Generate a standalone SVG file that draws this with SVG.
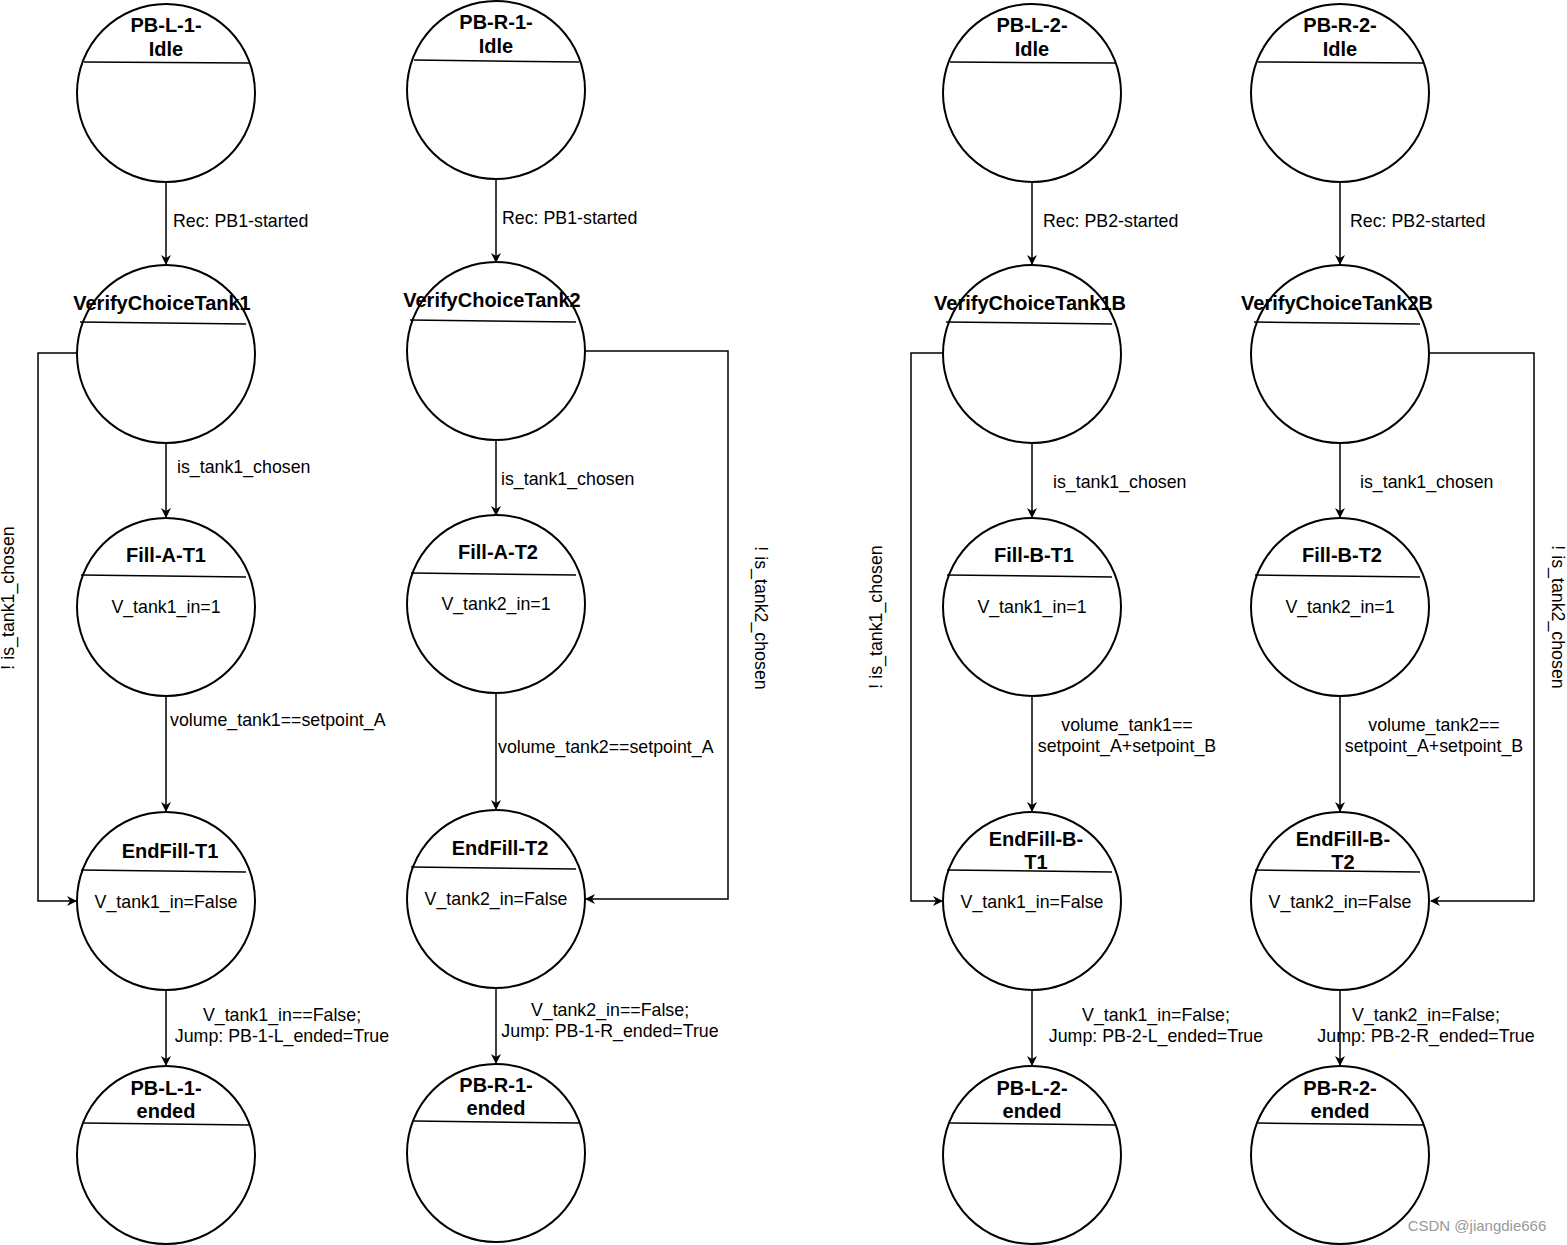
<svg xmlns="http://www.w3.org/2000/svg" width="1567" height="1245" viewBox="0 0 1567 1245">
<style>
.c{fill:#fff;stroke:#000;stroke-width:2}
.l{stroke:#000;stroke-width:1.5}
.t{font-family:"Liberation Sans",Arial,sans-serif;font-size:20px;font-weight:bold;text-anchor:middle}
.b{font-family:"Liberation Sans",Arial,sans-serif;font-size:17.8px;text-anchor:middle}
.e{font-family:"Liberation Sans",Arial,sans-serif;font-size:17.8px}
.w{fill:none;stroke:#000;stroke-width:1.5;marker-end:url(#a)}
</style>
<defs><marker id="a" markerWidth="10" markerHeight="10" refX="9" refY="5" orient="auto" markerUnits="userSpaceOnUse"><path d="M0,0 L10,5 L0,10 L3,5 Z" fill="#000"/></marker></defs>
<rect width="1567" height="1245" fill="#fff"/>
<g id="connectors">
<path class="w" d="M166,182 V264"/><path class="w" d="M166,443 V517"/><path class="w" d="M166,696 V811"/><path class="w" d="M166,990 V1065"/>
<path class="w" d="M496,179 V262"/><path class="w" d="M496,440 V515"/><path class="w" d="M496,693 V809"/><path class="w" d="M496,988 V1063"/>
<path class="w" d="M1032,182 V264"/><path class="w" d="M1032,443 V517"/><path class="w" d="M1032,696 V811"/><path class="w" d="M1032,990 V1065"/>
<path class="w" d="M1340,182 V264"/><path class="w" d="M1340,443 V517"/><path class="w" d="M1340,696 V811"/><path class="w" d="M1340,990 V1065"/>
<path class="w" d="M77,353 H38 V901 H76"/>
<path class="w" d="M585,351 H728 V899 H586"/>
<path class="w" d="M943,353 H911 V901 H942"/>
<path class="w" d="M1430,353 H1534 V901 H1431"/>
<text class="e" x="173" y="227">Rec: PB1-started</text>
<text class="e" x="502" y="224">Rec: PB1-started</text>
<text class="e" x="1043" y="227">Rec: PB2-started</text>
<text class="e" x="1350" y="227">Rec: PB2-started</text>
<text class="e" x="177" y="473">is_tank1_chosen</text>
<text class="e" x="501" y="485">is_tank1_chosen</text>
<text class="e" x="1053" y="488">is_tank1_chosen</text>
<text class="e" x="1360" y="488">is_tank1_chosen</text>
<text class="e" x="170" y="726">volume_tank1==setpoint_A</text>
<text class="e" x="498" y="753">volume_tank2==setpoint_A</text>
<text class="b" x="1127" y="731">volume_tank1==</text><text class="b" x="1127" y="752">setpoint_A+setpoint_B</text>
<text class="b" x="1434" y="731">volume_tank2==</text><text class="b" x="1434" y="752">setpoint_A+setpoint_B</text>
<text class="b" x="282" y="1021">V_tank1_in==False;</text><text class="b" x="282" y="1042">Jump: PB-1-L_ended=True</text>
<text class="b" x="610" y="1016">V_tank2_in==False;</text><text class="b" x="610" y="1037">Jump: PB-1-R_ended=True</text>
<text class="b" x="1156" y="1021">V_tank1_in=False;</text><text class="b" x="1156" y="1042">Jump: PB-2-L_ended=True</text>
<text class="b" x="1426" y="1021">V_tank2_in=False;</text><text class="b" x="1426" y="1042">Jump: PB-2-R_ended=True</text>
<text class="b" transform="translate(14,598) rotate(-90)">! is_tank1_chosen</text>
<text class="b" transform="translate(755,618) rotate(90)">! is_tank2_chosen</text>
<text class="b" transform="translate(882,617) rotate(-90)">! is_tank1_chosen</text>
<text class="b" transform="translate(1552,617) rotate(90)">! is_tank2_chosen</text>
</g>
<g id="n1"><circle class="c" cx="166" cy="93" r="89"/><line class="l" x1="84" y1="62" x2="249" y2="63"/><text class="t" x="166" y="32">PB-L-1-</text><text class="t" x="166" y="56">Idle</text></g>
<g id="n2"><circle class="c" cx="166" cy="354" r="89"/><line class="l" x1="80" y1="322" x2="246" y2="324"/><text class="t" x="162" y="310">VerifyChoiceTank1</text></g>
<g id="n3"><circle class="c" cx="166" cy="607" r="89"/><line class="l" x1="81" y1="575" x2="246" y2="577"/><text class="t" x="166" y="562">Fill-A-T1</text><text class="b" x="166" y="613">V_tank1_in=1</text></g>
<g id="n4"><circle class="c" cx="166" cy="901" r="89"/><line class="l" x1="81" y1="870" x2="246" y2="872"/><text class="t" x="170" y="858">EndFill-T1</text><text class="b" x="166" y="908">V_tank1_in=False</text></g>
<g id="n5"><circle class="c" cx="166" cy="1155" r="89"/><line class="l" x1="84" y1="1123" x2="249" y2="1125"/><text class="t" x="166" y="1095">PB-L-1-</text><text class="t" x="166" y="1118">ended</text></g>
<g id="n6"><circle class="c" cx="496" cy="90" r="89"/><line class="l" x1="414" y1="60" x2="579" y2="62"/><text class="t" x="496" y="29">PB-R-1-</text><text class="t" x="496" y="53">Idle</text></g>
<g id="n7"><circle class="c" cx="496" cy="351" r="89"/><line class="l" x1="410" y1="320" x2="576" y2="322"/><text class="t" x="492" y="307">VerifyChoiceTank2</text></g>
<g id="n8"><circle class="c" cx="496" cy="604" r="89"/><line class="l" x1="411" y1="573" x2="576" y2="575"/><text class="t" x="498" y="559">Fill-A-T2</text><text class="b" x="496" y="610">V_tank2_in=1</text></g>
<g id="n9"><circle class="c" cx="496" cy="899" r="89"/><line class="l" x1="411" y1="867" x2="576" y2="869"/><text class="t" x="500" y="855">EndFill-T2</text><text class="b" x="496" y="905">V_tank2_in=False</text></g>
<g id="n10"><circle class="c" cx="496" cy="1153" r="89"/><line class="l" x1="414" y1="1121" x2="579" y2="1123"/><text class="t" x="496" y="1092">PB-R-1-</text><text class="t" x="496" y="1115">ended</text></g>
<g id="n11"><circle class="c" cx="1032" cy="93" r="89"/><line class="l" x1="950" y1="62" x2="1115" y2="63"/><text class="t" x="1032" y="32">PB-L-2-</text><text class="t" x="1032" y="56">Idle</text></g>
<g id="n12"><circle class="c" cx="1032" cy="354" r="89"/><line class="l" x1="946" y1="322" x2="1112" y2="324"/><text class="t" x="1030" y="310">VerifyChoiceTank1B</text></g>
<g id="n13"><circle class="c" cx="1032" cy="607" r="89"/><line class="l" x1="947" y1="575" x2="1112" y2="577"/><text class="t" x="1034" y="562">Fill-B-T1</text><text class="b" x="1032" y="613">V_tank1_in=1</text></g>
<g id="n14"><circle class="c" cx="1032" cy="901" r="89"/><line class="l" x1="947" y1="870" x2="1112" y2="872"/><text class="t" x="1036" y="846">EndFill-B-</text><text class="t" x="1036" y="869">T1</text><text class="b" x="1032" y="908">V_tank1_in=False</text></g>
<g id="n15"><circle class="c" cx="1032" cy="1155" r="89"/><line class="l" x1="950" y1="1123" x2="1115" y2="1125"/><text class="t" x="1032" y="1095">PB-L-2-</text><text class="t" x="1032" y="1118">ended</text></g>
<g id="n16"><circle class="c" cx="1340" cy="93" r="89"/><line class="l" x1="1258" y1="62" x2="1423" y2="63"/><text class="t" x="1340" y="32">PB-R-2-</text><text class="t" x="1340" y="56">Idle</text></g>
<g id="n17"><circle class="c" cx="1340" cy="354" r="89"/><line class="l" x1="1254" y1="322" x2="1420" y2="324"/><text class="t" x="1337" y="310">VerifyChoiceTank2B</text></g>
<g id="n18"><circle class="c" cx="1340" cy="607" r="89"/><line class="l" x1="1255" y1="575" x2="1420" y2="577"/><text class="t" x="1342" y="562">Fill-B-T2</text><text class="b" x="1340" y="613">V_tank2_in=1</text></g>
<g id="n19"><circle class="c" cx="1340" cy="901" r="89"/><line class="l" x1="1255" y1="870" x2="1420" y2="872"/><text class="t" x="1343" y="846">EndFill-B-</text><text class="t" x="1343" y="869">T2</text><text class="b" x="1340" y="908">V_tank2_in=False</text></g>
<g id="n20"><circle class="c" cx="1340" cy="1155" r="89"/><line class="l" x1="1258" y1="1123" x2="1423" y2="1125"/><text class="t" x="1340" y="1095">PB-R-2-</text><text class="t" x="1340" y="1118">ended</text></g>
<text x="1477" y="1231" font-family="Liberation Sans,Arial,sans-serif" font-size="15" fill="#999" text-anchor="middle">CSDN @jiangdie666</text>
</svg>
